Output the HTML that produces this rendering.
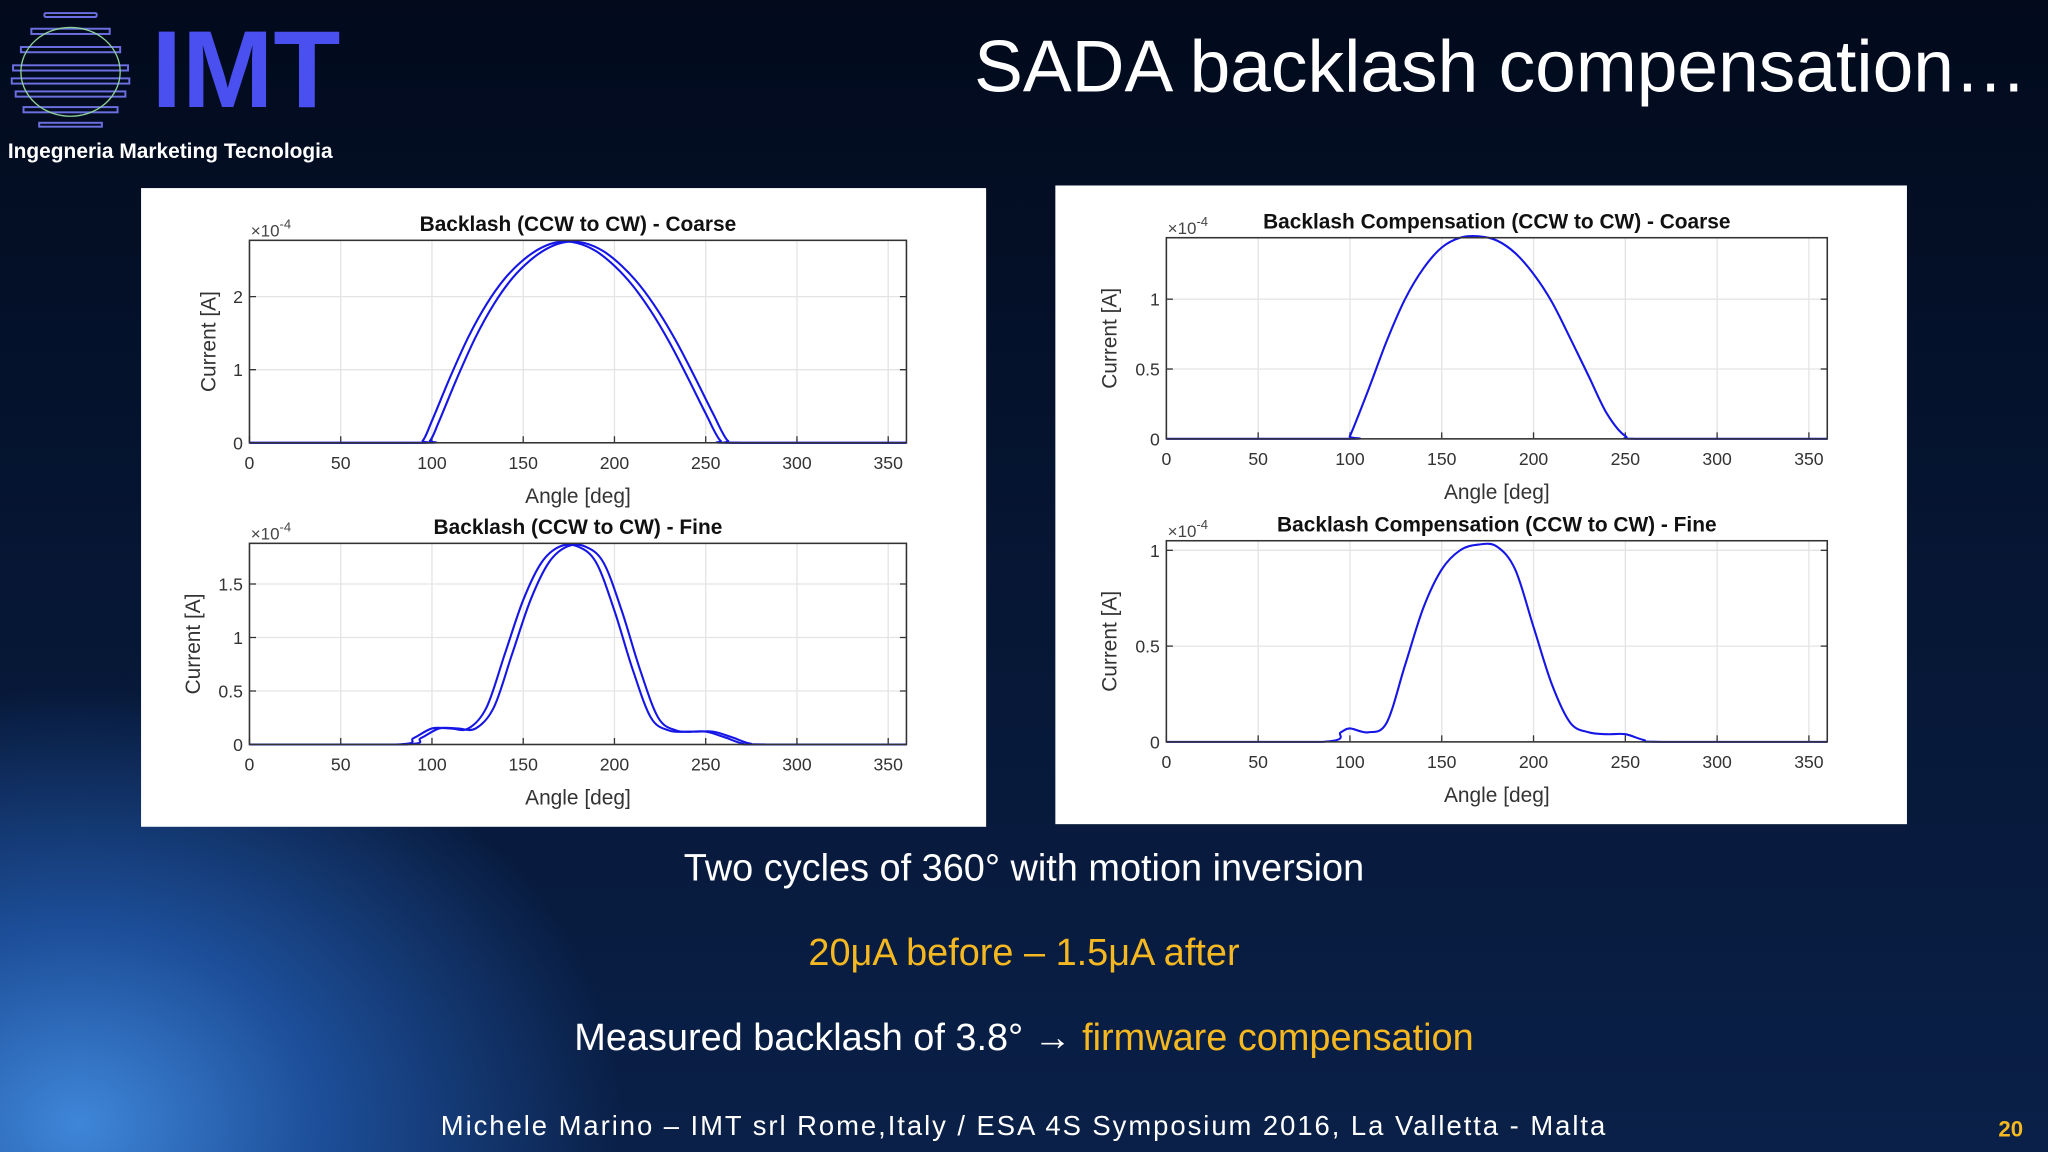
<!DOCTYPE html>
<html><head><meta charset="utf-8">
<style>
html,body{margin:0;padding:0;width:2048px;height:1152px;overflow:hidden;background:#05112a;}
#wrap{position:absolute;left:0;top:0;width:1568px;height:882px;transform:scale(1.306122);transform-origin:0 0;
background:radial-gradient(ellipse 520px 420px at 60px 860px,#3f86d8 0%,#1d4f9a 35%,rgba(8,24,60,0) 80%),linear-gradient(180deg,#020a1c 0%,#061634 50%,#0a2048 100%);
font-family:"Liberation Sans",sans-serif;overflow:hidden;}
.t{position:absolute;white-space:nowrap;}
.panel{position:absolute;background:#fff;}
svg text{font-family:"Liberation Sans",sans-serif;}
</style></head>
<body>
<div id="wrap">
  <svg class="t" style="left:4px;top:6px" width="100" height="100">
    <g fill="none" stroke="#6b6fe0" stroke-width="1.5">
      <rect x="30" y="4" width="40" height="3" rx="1"/><rect x="20" y="16" width="60" height="4"/><rect x="12" y="30" width="76" height="4"/><rect x="6" y="44" width="88" height="4"/><rect x="5" y="54" width="90" height="4"/><rect x="8" y="64" width="84" height="4"/><rect x="14" y="76" width="72" height="4"/><rect x="26" y="88" width="48" height="3"/>
    </g>
    <ellipse cx="50" cy="49" rx="38" ry="34" fill="none" stroke="#8fd39a" stroke-width="1"/>
  </svg>
  <div class="t" style="left:116px;top:8px;font-size:84px;font-weight:bold;color:#4a4ff0;letter-spacing:0px;line-height:90px">IMT</div>
  <div class="t" style="left:6px;top:108px;font-size:16px;font-weight:bold;color:#fff">Ingegneria Marketing Tecnologia</div>
  <div class="t" style="right:16px;top:18px;font-size:56px;color:#fff">SADA backlash compensation…</div>

  <div class="panel" style="left:108px;top:144px;width:647px;height:489px"><svg id="p1" width="647" height="489"></svg></div>
  <div class="panel" style="left:808px;top:142px;width:652px;height:489px"><svg id="p2" width="652" height="489"></svg></div>

  <div class="t" style="left:0;width:1568px;text-align:center;top:649px;font-size:29px;color:#fff">Two cycles of 360° with motion inversion</div>
  <div class="t" style="left:0;width:1568px;text-align:center;top:714px;font-size:29px;color:#f5b820">20μA before – 1.5μA after</div>
  <div class="t" style="left:0;width:1568px;text-align:center;top:779px;font-size:29px;color:#fff">Measured backlash of 3.8° → <span style="color:#f5b820">firmware compensation</span></div>
  <div class="t" style="left:0;width:1568px;text-align:center;top:851px;font-size:21px;color:#fff;letter-spacing:1.5px">Michele Marino – IMT srl Rome,Italy / ESA 4S Symposium 2016, La Valletta - Malta</div>
  <div class="t" style="left:1530px;top:855px;font-size:17px;font-weight:bold;color:#f5b820">20</div>
</div>
<script>
const xTicks=[0,50,100,150,200,250,300,350];
const coarseX=[0,90,95,100,110,120,130,140,150,160,170,180,190,200,210,220,230,240,250,258,265,360];
const coarseA=[0,0,0.03,0.3,0.9,1.45,1.9,2.25,2.5,2.67,2.75,2.73,2.62,2.42,2.15,1.8,1.38,0.9,0.4,0.03,0,0];
const coarseShift=4;
const fineX=[0,80,90,100,110,120,130,140,150,160,170,180,190,200,210,220,230,240,250,260,270,280,360];
const fineA=[0,0,0.06,0.15,0.15,0.15,0.35,0.85,1.35,1.7,1.85,1.85,1.7,1.25,0.7,0.25,0.13,0.12,0.12,0.07,0.01,0,0];
const fineShift=4;
const compCoarseX=[0,98,100,110,120,130,140,150,160,170,180,190,200,210,220,230,240,250,260,360];
const compCoarseY=[0,0,0.02,0.35,0.7,1.0,1.22,1.37,1.44,1.45,1.42,1.33,1.18,0.98,0.72,0.45,0.18,0.02,0,0];
const compFineX=[0,85,95,100,110,120,130,140,150,160,170,180,190,200,210,220,230,240,250,260,270,360];
const compFineY=[0,0,0.05,0.07,0.05,0.1,0.4,0.7,0.9,1.0,1.03,1.02,0.9,0.6,0.3,0.1,0.05,0.04,0.04,0.01,0,0];
const NS='http://www.w3.org/2000/svg';
function mk(p,tag,at,txt){const e=document.createElementNS(NS,tag);for(const k in at)e.setAttribute(k,at[k]);if(txt!==undefined)e.textContent=txt;p.appendChild(e);return e;}
function smooth(pts){let d='M'+pts[0][0]+','+pts[0][1];for(let i=0;i<pts.length-1;i++){const p0=pts[Math.max(0,i-1)],p1=pts[i],p2=pts[i+1],p3=pts[Math.min(pts.length-1,i+2)];
let c1y=p1[1]+(p2[1]-p0[1])/6,c2y=p2[1]-(p3[1]-p1[1])/6;const lo=Math.max(p1[1],p2[1])+0,hi=Math.min(p1[1],p2[1]);
const base=Math.max(...pts.map(p=>p[1]));c1y=Math.min(c1y,base);c2y=Math.min(c2y,base);
d+=' C'+(p1[0]+(p2[0]-p0[0])/6)+','+c1y+' '+(p2[0]-(p3[0]-p1[0])/6)+','+c2y+' '+p2[0]+','+p2[1];}return d;}
function chart(svg,box,ymax,yTicks,title,series,name){
  const g=mk(svg,'g',{});
  
  
  const X=v=>box.x+v/360*box.w, Y=v=>box.y+box.h-v/ymax*box.h;
  xTicks.forEach(t=>{const l=mk(g,'line',{x1:X(t),x2:X(t),y1:box.y,y2:box.y+box.h,stroke:'#e4e4e4','stroke-width':1});
    
    
    mk(g,'line',{x1:X(t),x2:X(t),y1:box.y+box.h,y2:box.y+box.h-5,stroke:'#333'});
    const tx=mk(g,'text',{x:X(t),y:box.y+box.h+20,'text-anchor':'middle','font-size':13.5,fill:'#333'},t);
    
    });
  yTicks.forEach(t=>{const l=mk(g,'line',{x1:box.x,x2:box.x+box.w,y1:Y(t),y2:Y(t),stroke:'#e4e4e4'});
    
    
    mk(g,'line',{x1:box.x,x2:box.x+5,y1:Y(t),y2:Y(t),stroke:'#333'});
    mk(g,'line',{x1:box.x+box.w,x2:box.x+box.w-5,y1:Y(t),y2:Y(t),stroke:'#333'});
    const tx=mk(g,'text',{x:box.x-5,y:Y(t)+5,'text-anchor':'end','font-size':13.5,fill:'#333'},t);
    
    });
  series.forEach(s=>{const pts=s.x.map((v,i)=>[X(Math.min(360,v)),Y(s.y[i])]);
    const p=mk(g,'path',{d:smooth(pts),fill:'none',stroke:'#1515e6','stroke-width':1.6});
    
    });
  const fr=mk(g,'rect',{x:box.x,y:box.y,width:box.w,height:box.h,fill:'none',stroke:'#333','stroke-width':1.2});
  
  
  const tt=mk(g,'text',{x:box.x+box.w/2,y:box.y-7,'text-anchor':'middle','font-size':16,'font-weight':'bold',fill:'#111'},title);
  
  
  const ex=mk(g,'text',{x:box.x+1,y:box.y-3,'font-size':13,fill:'#444'},'×10');
  
  
  mk(ex,'tspan',{dy:-6,'font-size':10},'-4');
  const xl=mk(g,'text',{x:box.x+box.w/2,y:box.y+box.h+46,'text-anchor':'middle','font-size':16,fill:'#333'},'Angle [deg]');
  
  
  const yx=box.x-(yTicks.some(t=>String(t).length>1)?38:26), yy=box.y+box.h/2;
  const yl=mk(g,'text',{x:yx,y:yy,'text-anchor':'middle','font-size':16,fill:'#333',transform:'rotate(-90 '+yx+' '+yy+')'},'Current [A]');
  
  
}
const p1=document.getElementById('p1'),p2=document.getElementById('p2');
chart(p1,{x:83,y:40,w:503,h:155},2.77,[0,1,2],'Backlash (CCW to CW) - Coarse',
 [{x:coarseX,y:coarseA},{x:coarseX.map(v=>v>0&&v<360?v+coarseShift:v),y:coarseA}],'coarse-backlash-chart');
chart(p1,{x:83,y:272,w:503,h:154},1.88,[0,0.5,1,1.5],'Backlash (CCW to CW) - Fine',
 [{x:fineX,y:fineA},{x:fineX.map(v=>v>0&&v<360?v+fineShift:v),y:fineA}],'fine-backlash-chart');
chart(p2,{x:85,y:40,w:506,h:154},1.44,[0,0.5,1],'Backlash Compensation (CCW to CW) - Coarse',
 [{x:compCoarseX,y:compCoarseY}],'coarse-compensation-chart');
chart(p2,{x:85,y:272,w:506,h:154},1.05,[0,0.5,1],'Backlash Compensation (CCW to CW) - Fine',
 [{x:compFineX,y:compFineY}],'fine-compensation-chart');
</script>
</body></html>
